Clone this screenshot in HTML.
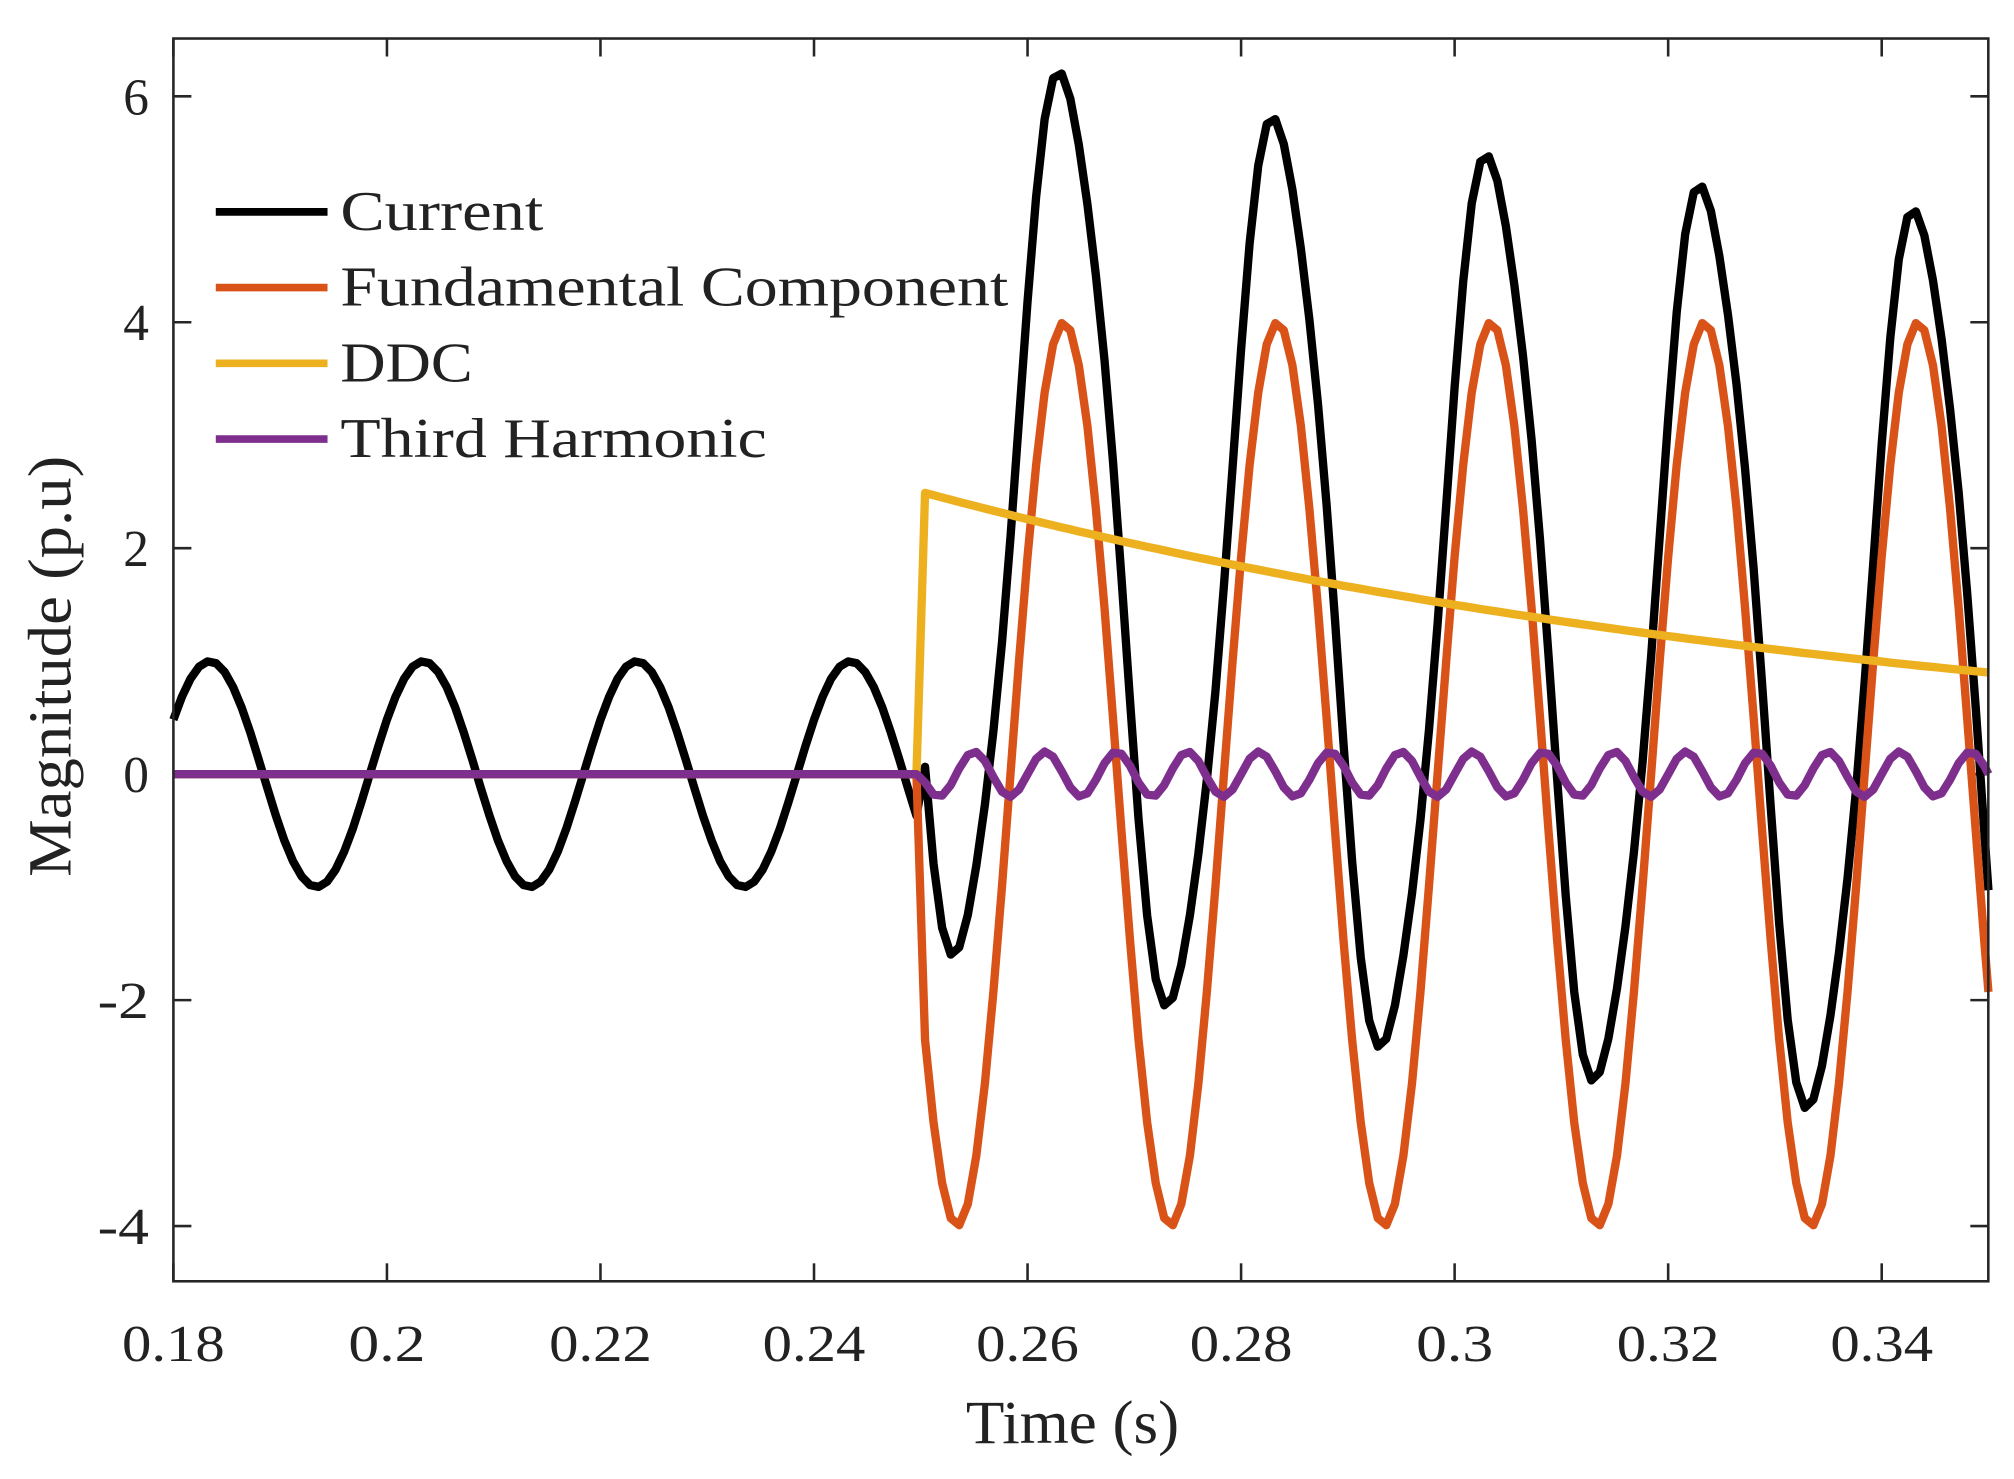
<!DOCTYPE html>
<html><head><meta charset="utf-8"><style>
html,body{margin:0;padding:0;background:#fff;}
svg{display:block;}
text{font-family:"Liberation Serif",serif;fill:#222;}
</style></head><body>
<svg id="s" width="2014" height="1479" viewBox="0 0 1568 1152" preserveAspectRatio="none" xmlns="http://www.w3.org/2000/svg">
<rect x="0" y="0" width="1568" height="1152" fill="#fff"/>
<g id="ticks" stroke="#262626" stroke-width="2"></g>
<g id="curves" fill="none" stroke-linejoin="round" stroke-width="6.5"></g>
<rect x="135" y="30" width="1413" height="968" fill="none" stroke="#262626" stroke-width="2"/>
<g font-size="40" text-anchor="end" id="ylab"></g>
<g font-size="40" text-anchor="middle" id="xlab"></g>
<text x="835" y="1124" font-size="48" text-anchor="middle" textLength="166" lengthAdjust="spacingAndGlyphs">Time (s)</text>
<text transform="translate(55,519) rotate(-90)" font-size="48" text-anchor="middle" textLength="328" lengthAdjust="spacingAndGlyphs">Magnitude (p.u)</text>
<g stroke-width="6">
<line x1="168" y1="165" x2="255" y2="165" stroke="#000"/>
<line x1="168" y1="224" x2="255" y2="224" stroke="#d95319"/>
<line x1="168" y1="283" x2="255" y2="283" stroke="#edb120"/>
<line x1="168" y1="342" x2="255" y2="342" stroke="#7e2f8e"/>
</g>
<g font-size="44">
<text x="265" y="179" textLength="158" lengthAdjust="spacingAndGlyphs">Current</text>
<text x="265" y="238" textLength="520" lengthAdjust="spacingAndGlyphs">Fundamental Component</text>
<text x="265" y="297" textLength="103" lengthAdjust="spacingAndGlyphs">DDC</text>
<text x="265" y="356" textLength="332" lengthAdjust="spacingAndGlyphs">Third Harmonic</text>
</g>
</svg>
<script>
var X=function(t){return 135+(t-0.18)*8312.5;};
var Y=function(v){return 603-v*88;};
var NS="http://www.w3.org/2000/svg";
function el(p,n,a){var e=document.createElementNS(NS,n);for(var k in a)e.setAttribute(k,a[k]);p.appendChild(e);return e;}
var tk=document.getElementById('ticks'),yl=document.getElementById('ylab'),xl=document.getElementById('xlab');
for(var v=-4;v<=6;v+=2){var y=Y(v);el(tk,'line',{x1:135,y1:y,x2:149,y2:y});el(tk,'line',{x1:1548,y1:y,x2:1534,y2:y});
 var a={x:116,y:y+14};if(v<0){a.textLength=40;a.lengthAdjust="spacingAndGlyphs";}
 var t=el(yl,'text',a);t.textContent=v;}
var labs=["0.18","0.2","0.22","0.24","0.26","0.28","0.3","0.32","0.34"];
for(var i=0;i<9;i++){var x=X(0.18+0.02*i);el(tk,'line',{x1:x,y1:998,x2:x,y2:984});el(tk,'line',{x1:x,y1:30,x2:x,y2:44});
 var t=el(xl,'text',{x:x,y:1060,textLength:labs[i].length==4?80:60,lengthAdjust:"spacingAndGlyphs"});t.textContent=labs[i];}
var w=2*Math.PI*50,dt=0.0008;
function fund(t){return t<0.25?0:4*Math.cos(w*(t-0.2634));}
function ddc(t){return t<0.25?0:2.5*Math.exp(-(t-0.25)/0.0978);}
function th(t){return t<0.25?0:-0.2*Math.sin(3*w*(t-0.25));}
function cur(t){return t<0.25?Math.cos(w*(t-0.1834)):fund(t)+ddc(t)+th(t);}
function path(f,col,vert){var d="";var n=Math.floor(0.17/dt+1e-9);
 for(var i=0;i<=n+1;i++){var t=Math.min(0.18+i*dt,0.35);
  if(Math.abs(t-0.25)<1e-9){d+="L"+X(0.25)+","+Y(f(0.2499999))+" ";if(vert)d+="L"+X(0.25)+","+Y(f(0.25))+" ";continue;}
  d+=(d?"L":"M")+X(t).toFixed(1)+","+Y(f(t)).toFixed(1)+" ";}
 el(document.getElementById('curves'),'path',{d:d,stroke:col});}
function cur2(t){return t<0.2501&&t>0.2499?0.35:cur(t);}
path(cur2,"#000",false);path(fund,"#d95319",false);path(ddc,"#edb120",true);path(th,"#7e2f8e",false);
</script>
</body></html>
